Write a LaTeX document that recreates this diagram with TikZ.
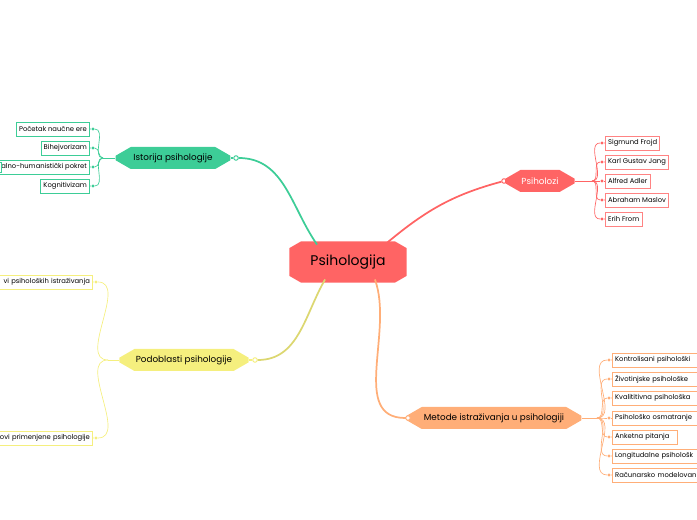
\documentclass[tikz,border=0pt]{standalone}
\usepackage{fontspec}
\setmainfont{Poppins}
\usetikzlibrary{shapes.misc,calc}
\definecolor{crimson}{HTML}{FF6464}
\definecolor{mint}{HTML}{3DCD97}
\definecolor{lemon}{HTML}{F5EF7E}
\definecolor{peach}{HTML}{FFAE78}
\tikzset{
  topic/.style={chamfered rectangle,chamfered rectangle angle=60,chamfered rectangle xsep=5pt,
    inner sep=1pt,minimum height=16.5pt,font=\fontsize{6.6}{7}\selectfont},
  leaf/.style={draw=#1,line width=0.7pt,fill=white,inner sep=2pt,minimum height=10.5pt,
    font=\fontsize{5.1}{5.5}\selectfont},
  twig/.style={draw=#1,line width=0.5pt},
  bough/.style={draw=#1,line width=1.3pt},
  ring/.style={circle,draw=#1,fill=white,line width=0.7pt,inner sep=1.2pt},
  pip/.style={circle,fill=#1,inner sep=0.8pt}
}
\begin{document}
\begin{tikzpicture}[x=0.75pt,y=-0.75pt]
\useasboundingbox (0,0) rectangle (697,520);
\clip (0,0) rectangle (697,520);

% main topic
\node[chamfered rectangle,chamfered rectangle xsep=2.5pt,chamfered rectangle angle=60,fill=crimson,
  minimum width=88pt,minimum height=31pt,font=\fontsize{10.5}{11}\selectfont] (psih) at (348,262) {Psihologija};

% branch topics
\node[topic,fill=mint,minimum width=86pt] (ist) at (173,158) {Istorija psihologije};
\node[topic,fill=crimson,text=white,minimum width=52pt] (lic) at (540,181) {Psiholozi};
\node[topic,fill=lemon,minimum width=97pt] (pod) at (184,360) {Podoblasti psihologije};
\node[topic,fill=peach,minimum width=131pt] (met) at (494,418) {Metode istraživanja u psihologiji};

\node[ring=mint] (ist-r) at (236,158) {};
\node[ring=crimson] (lic-r) at (504,181) {};
\node[ring=lemon] (pod-r) at (255,360) {};
\node[ring=peach] (met-r) at (408,418) {};

\draw[bough=mint] ($(psih.north west)+(22,0)$) to[out=125,in=0] (ist-r);
\draw[bough=crimson] ($(psih.north east)+(-16,0)$) to[out=40,in=195] (lic-r);
\draw[bough=lemon!90!black] ($(psih.south west)+(30,0)$) to[out=240,in=0] (pod-r);
\draw[bough=peach] ($(psih.south east)+(-26,0)$) to[out=290,in=180] (met-r);
\draw[twig=mint,line width=0.9pt] (ist-r) -- (ist.east);
\draw[twig=crimson,line width=0.9pt] (lic-r) -- (lic.west);
\draw[twig=lemon,line width=0.9pt] (pod-r) -- (pod.east);
\draw[twig=peach,line width=0.9pt] (met-r) -- (met.west);

% Istorija psihologije
\coordinate (ist-j) at (103,158);
\draw[twig=mint] (ist.west) -- (ist-j);
\foreach \y/\t/\n in {129/Početak naučne ere/1,148/Bihejvorizam/2,
    167/alno-humanistički pokret/3,186/Kognitivizam/4}{
  \node[leaf=mint,anchor=east] (ist-\n) at (90,\y) {\t};
  \node[pip=mint] (ist-p\n) at (93,\y) {};
  \draw[twig=mint] (ist-j) to[out=180,in=0] (ist-p\n) -- (ist-\n);
}
\draw[mint,line width=0.7pt,fill=white] (-5,162) rectangle (1,172);

% Psiholozi
\coordinate (lic-j) at (592,181);
\draw[twig=crimson] (lic.east) -- (lic-j);
\foreach \y/\t/\n in {143/Sigmund Frojd/1,162/Karl Gustav Jang/2,181/Alfred Adler/3,
    200/Abraham Maslov/4,219/Erih From/5}{
  \node[leaf=crimson!80,anchor=west] (lic-\n) at (605,\y) {\t};
  \node[pip=crimson] (lic-p\n) at (602,\y) {};
  \draw[twig=crimson] (lic-j) to[out=0,in=180] (lic-p\n) -- (lic-\n);
}

% Podoblasti psihologije
\coordinate (pod-j) at (108,360);
\draw[twig=lemon] (pod.west) -- (pod-j);
\node[leaf=lemon,anchor=east,text width=120pt,align=right] (pod-1) at (93,282) {vi psiholoških istraživanja};
\node[leaf=lemon,anchor=east,text width=120pt,align=right] (pod-2) at (93,438) {ovi primenjene psihologije};
\foreach \n/\y in {1/282,2/438}{
  \node[pip=lemon] (pod-p\n) at (96,\y) {};
  \draw[twig=lemon] (pod-j) to[out=180,in=0] (pod-p\n) -- (pod-\n);
}

% Metode istrazivanja
\coordinate (met-j) at (597,418);
\draw[twig=peach] (met.east) -- (met-j);
\foreach \y/\t/\n/\w in {360/Kontrolisani psihološki/1/80pt,379/Životinjske psihološke/2/80pt,
    398/Kvalititivna psihološka/3/80pt,418/Psihološko osmatranje/4/80pt,437/Anketna pitanja/5/49pt,
    456/Longitudalne psihološk/6/80pt,475/Računarsko modelovan/7/80pt}{
  \node[leaf=peach,anchor=west,minimum width=\w,align=left,text width={\w-4pt}] (met-\n) at (612,\y) {\t};
  \node[pip=peach] (met-p\n) at (609,\y) {};
  \draw[twig=peach] (met-j) to[out=0,in=180] (met-p\n) -- (met-\n);
}
\end{tikzpicture}
\end{document}
